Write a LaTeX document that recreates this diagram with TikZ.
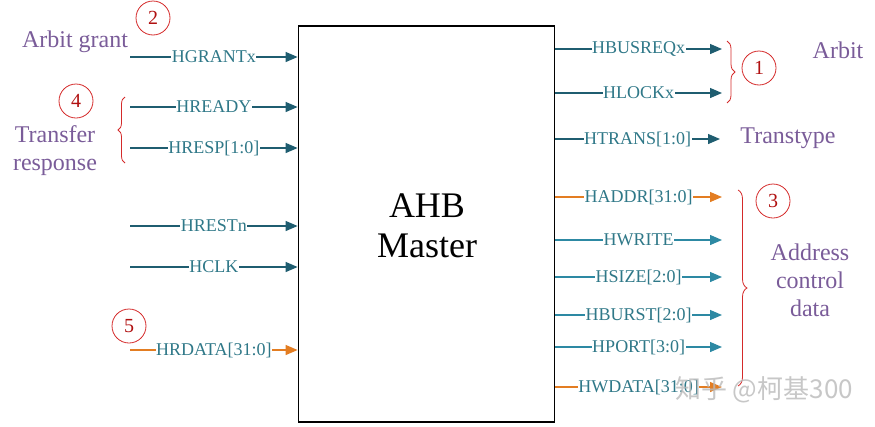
\documentclass[tikz,border=0pt]{standalone}
\usepackage{fontspec}
\setmainfont{Liberation Serif}
\newfontfamily\cjk{Noto Sans CJK SC}
\usetikzlibrary{arrows.meta,decorations.pathreplacing}
\definecolor{dteal}{HTML}{1F5D70}
\definecolor{lteal}{HTML}{2D89A3}
\definecolor{tealtxt}{HTML}{2F7888}
\definecolor{orng}{HTML}{E37D22}
\definecolor{purp}{HTML}{7A5C99}
\definecolor{redc}{HTML}{D42A2A}
\definecolor{redt}{HTML}{B01010}
\tikzset{
  sig/.style={line width=1.3pt, dteal, -{Triangle[length=12pt,width=10pt]}},
  sigl/.style={sig, lteal},
  sigo/.style={sig, orng},
  lab/.style={fill=white, inner xsep=0.5pt, inner ysep=1pt, text=tealtxt, font=\fontsize{18}{18}\selectfont},
  grp/.style={text=purp, font=\fontsize{24}{26}\selectfont, align=center},
  grpm/.style={grp, font=\fontsize{24}{28}\selectfont},
  num/.style={circle, draw=redc, line width=0.8pt, minimum size=34pt, inner sep=0pt, text=redt, font=\fontsize{20}{20}\selectfont},
  brc/.style={draw=redc, line width=0.8pt, decorate, decoration={brace, amplitude=8pt}},
}
\begin{document}
\begin{tikzpicture}[x=1pt,y=-1pt]
\useasboundingbox (0,0) rectangle (875,426);
\node[draw, line width=1.8pt, minimum width=256pt, minimum height=396pt, inner sep=0pt] (m) at (426.5,224) {};
\node[align=center, font=\fontsize{36}{40}\selectfont] (t) at (427,226) {AHB\\Master};
% left inputs
\coordinate (a1) at (130,57);
\coordinate (a2) at (130,107);
\coordinate (a3) at (130,148);
\coordinate (a4) at (130,226);
\coordinate (a5) at (130,267);
\coordinate (a6) at (130,350);
\draw[sig] (a1) -- node[lab, pos=0.5]{HGRANTx} (m.west |- a1);
\draw[sig] (a2) -- node[lab, pos=0.5]{HREADY} (m.west |- a2);
\draw[sig] (a3) -- node[lab, pos=0.5]{HRESP[1:0]} (m.west |- a3);
\draw[sig] (a4) -- node[lab, pos=0.5]{HRESTn} (m.west |- a4);
\draw[sig] (a5) -- node[lab, pos=0.5]{HCLK} (m.west |- a5);
\draw[sigo] (a6) -- node[lab, pos=0.5]{HRDATA[31:0]} (m.west |- a6);
% right outputs
\coordinate (b1) at (722,49);
\coordinate (b2) at (722,93);
\coordinate (b3) at (720,139);
\coordinate (b4) at (722,197);
\coordinate (b5) at (722,240);
\coordinate (b6) at (722,277);
\coordinate (b7) at (722,315);
\coordinate (b8) at (722,347);
\coordinate (b9) at (722,387);
\draw[sig] (m.east |- b1) -- node[lab, pos=0.5]{HBUSREQx} (b1);
\draw[sig] (m.east |- b2) -- node[lab, pos=0.5]{HLOCKx} (b2);
\draw[sig] (m.east |- b3) -- node[lab, pos=0.5]{HTRANS[1:0]} (b3);
\draw[sigo] (m.east |- b4) -- node[lab, pos=0.5]{HADDR[31:0]} (b4);
\draw[sigl] (m.east |- b5) -- node[lab, pos=0.5]{HWRITE} (b5);
\draw[sigl] (m.east |- b6) -- node[lab, pos=0.5]{HSIZE[2:0]} (b6);
\draw[sigl] (m.east |- b7) -- node[lab, pos=0.5]{HBURST[2:0]} (b7);
\draw[sigl] (m.east |- b8) -- node[lab, pos=0.5]{HPORT[3:0]} (b8);
\draw[sigo] (m.east |- b9) -- node[lab, pos=0.5]{HWDATA[31:0]} (b9);
% group labels
\node[grp] (g1) at (75,42) {Arbit grant};
\node[grpm] (g2) at (55,151) {Transfer\\response};
\node[grp] (g3) at (838,50) {Arbit};
\node[grp] (g4) at (788,138) {Transtype};
\node[grpm] (g5) at (810,280) {Address\\control\\data};
% braces
\coordinate (l1) at (125,163);
\coordinate (l2) at (125,97);
\draw[brc, decoration={amplitude=7pt}] (l1) -- (l2);
\coordinate (r1) at (727,41);
\coordinate (r2) at (727,103);
\draw[brc] (r1) -- (r2);
\coordinate (s1) at (738,190);
\coordinate (s2) at (738,386);
\draw[brc, decoration={amplitude=9pt}] (s1) -- (s2);
% numbered circles
\node[num] (n2) at (153,18) {2};
\node[num] (n4) at (76,101) {4};
\node[num] (n5) at (129,326) {5};
\node[num] (n1) at (759,68) {1};
\node[num] (n3) at (773,201) {3};
% watermark
\node[text=gray!55, opacity=0.8, font=\cjk\fontsize{26}{26}\selectfont] (w) at (764,390) {知乎 @柯基300};
\end{tikzpicture}
\end{document}
